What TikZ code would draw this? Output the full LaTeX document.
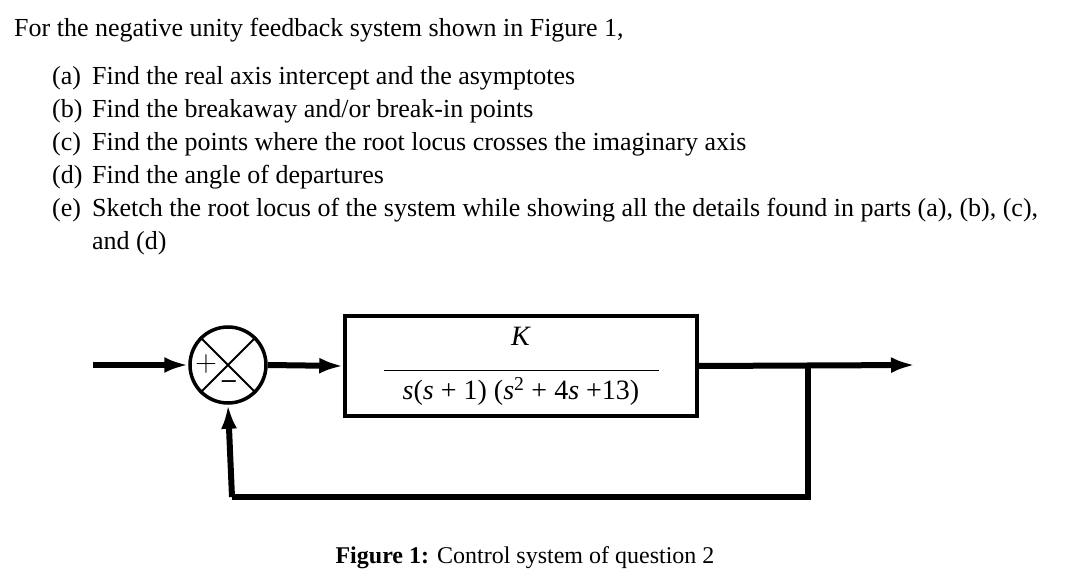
\documentclass[tikz,border=0pt]{standalone}
\usepackage{amsmath}
\usepackage{fontspec}
\setmainfont{Liberation Serif}
\usetikzlibrary{arrows.meta}
\begin{document}
\begin{tikzpicture}[x=1pt,y=-1pt,
  sig/.style={line width=6pt,-{Latex[length=24pt,width=16pt]}},
  ln/.style={line width=6pt},
  txt/.style={anchor=west,inner sep=0pt,font=\fontsize{26}{30}\selectfont}]
\useasboundingbox (0,0) rectangle (1074,583);
\node[txt] (t0) at (14,30) {For the negative unity feedback system shown in Figure 1,};
\node[txt] (la) at (52,78) {(a)}; \node[txt] (ta) at (92,78) {Find the real axis intercept and the asymptotes};
\node[txt] (lb) at (52,111) {(b)}; \node[txt] (tb) at (92,111) {Find the breakaway and/or break-in points};
\node[txt] (lc) at (52,144) {(c)}; \node[txt] (tc) at (92,144) {Find the points where the root locus crosses the imaginary axis};
\node[txt] (ld) at (52,177) {(d)}; \node[txt] (td) at (92,177) {Find the angle of departures};
\node[txt] (le) at (52,210) {(e)}; \node[txt] (te) at (92,210) {Sketch the root locus of the system while showing all the details found in parts (a), (b), (c),};
\node[txt] (te2) at (92,243) {and (d)};
% diagram
\node[circle,draw,line width=3.5pt,minimum size=76pt,inner sep=0pt] (sum) at (228,365) {};
\draw[line width=2pt] (sum.45) -- (sum.225) (sum.135) -- (sum.315);
\node[font=\fontsize{30}{30}\selectfont\sffamily] (plus) at (206,364) {+};
\node[font=\fontsize{30}{30}\selectfont\sffamily] (minus) at (229,385) {\textendash};
\node[draw,line width=3.5pt,minimum width=352pt,minimum height=100pt,inner sep=0pt] (G) at (521,366) {};
\node[font=\fontsize{28}{30}\selectfont,align=center,inner sep=0pt] (tf) at (521,366) {\textit{K}\\[-4pt]\rule{275pt}{1pt}\\[-2pt]\textit{s}(\textit{s} + 1) (\textit{s}\textsuperscript{2} + 4\textit{s} +13)};
\coordinate (in) at (93,365);
\coordinate (out) at (915,365);
\coordinate (br) at (808,365);
\coordinate (c1) at (808,497);
\coordinate (c2) at (232,497);
\draw[sig] (in) -- (sum.west);
\draw[sig] (sum.east) -- (G.west);
\draw[sig] (G.east) -- (out);
\draw[ln] (br) -- (c1) -- (c2);
\draw[sig] (c2) -- (sum.south);
\node[font=\fontsize{24}{28}\selectfont] (cap) at (525,558) {\textbf{Figure 1:} Control system of question 2};
\end{tikzpicture}
\end{document}
